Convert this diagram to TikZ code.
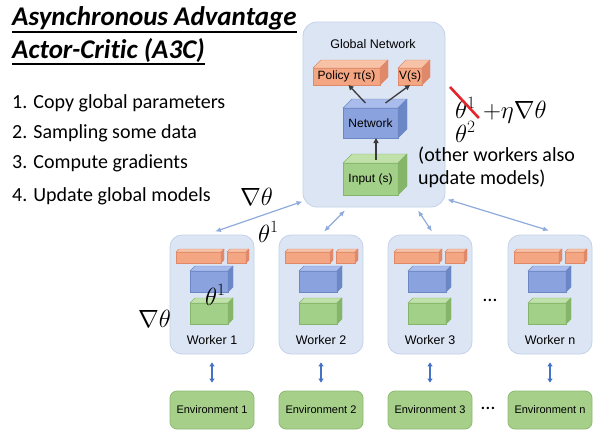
\documentclass[tikz,border=0pt]{standalone}
\usepackage{fontspec}
\setmainfont[Ligatures=NoCommon]{Carlito}
\newfontfamily\arialf{Liberation Sans}
\usetikzlibrary{arrows.meta}
\definecolor{panel}{HTML}{DCE5F3}
\definecolor{panelb}{HTML}{C3D2EA}
\definecolor{orf}{HTML}{F4A582}
\definecolor{ortop}{HTML}{F8C2A6}
\definecolor{orside}{HTML}{E0896A}
\definecolor{blf}{HTML}{8AA2DE}
\definecolor{bltop}{HTML}{A9BCEB}
\definecolor{blside}{HTML}{6C87C6}
\definecolor{grf}{HTML}{A3D088}
\definecolor{grtop}{HTML}{C0E1A9}
\definecolor{grside}{HTML}{84B569}
\definecolor{envf}{HTML}{A6CF8A}
\definecolor{envb}{HTML}{8EBB72}
\definecolor{linkc}{HTML}{8FAADC}
\definecolor{envarr}{HTML}{4472C4}
\definecolor{arrowgray}{HTML}{3A3A3A}
\definecolor{strike}{HTML}{E3262B}
\newcommand\mycube[8]{%
 \node[draw=#7side, line width=0.4pt, outer sep=0pt, fill=#7f, minimum width=#4pt, minimum height=#5pt, inner sep=0pt, font=\arialf\fontsize{12}{14}\selectfont] (#1) at (#2,#3) {#8};
 \filldraw[draw=#7side, line width=0.4pt, fill=#7top] (#1.north west) -- ++(#6,-#6) -- ++(#4,0) -- (#1.north east) -- cycle;
 \filldraw[draw=#7side, line width=0.4pt, fill=#7side] (#1.north east) -- ++(#6,-#6) -- ++(0,#5) -- (#1.south east) -- cycle;
}
\begin{document}
\begin{tikzpicture}[x=1pt,y=-1pt,
 panelbox/.style={draw=panelb, fill=panel, line width=0.8pt, rounded corners=#1, inner sep=0pt},
 envbox/.style={draw=envb, fill=envf, line width=0.8pt, rounded corners=7pt, minimum width=84pt, minimum height=38pt, inner sep=0pt, font=\arialf\fontsize{11}{13}\selectfont},
 lbl/.style={font=\arialf\fontsize{12.5}{14}\selectfont, inner sep=0pt},
 link/.style={{Latex[length=6pt,width=5pt]}-{Latex[length=6pt,width=5pt]}, draw=linkc, line width=1.2pt},
 envlink/.style={{Triangle[length=4pt,width=5pt]}-{Triangle[length=4pt,width=5pt]}, draw=envarr, line width=1.4pt, shorten >=8pt, shorten <=8pt},
 netarrow/.style={-{Triangle[length=5pt,width=5pt]}, draw=arrowgray, line width=1.3pt},
 mathtxt/.style={font=\fontsize{26}{30}\selectfont, inner sep=0pt, anchor=base west},
 bodytxt/.style={font=\fontsize{20}{24}\selectfont, inner sep=0pt, anchor=base west},
 titletxt/.style={font=\fontsize{27}{32}\selectfont\bfseries\itshape, inner sep=0pt, anchor=base west},
]
\fill[white] (0,0) rectangle (600,439);
\useasboundingbox (0,0) rectangle (600,439);

% title and list
\node[titletxt] (t1) at (12,25) {Asynchronous Advantage};
\node[titletxt] (t2) at (12,58) {Actor-Critic (A3C)};
\draw[line width=1.4pt] ([shift={(0,7)}]t1.base west) -- ([shift={(0,7)}]t1.base east);
\draw[line width=1.4pt] ([shift={(0,6)}]t2.base west) -- ([shift={(0,6)}]t2.base east);
\node[bodytxt] (s1) at (12,108) {1. Copy global parameters};
\node[bodytxt] (s2) at (12,138) {2. Sampling some data};
\node[bodytxt] (s3) at (12,168) {3. Compute gradients};
\node[bodytxt] (s4) at (12,201) {4. Update global models};

% global network
\node[panelbox=14pt, minimum width=142pt, minimum height=185pt] (global) at (374,114.5) {};
\node[lbl, font=\arialf\fontsize{12.5}{14}\selectfont] (gtitle) at (373,44) {Global Network};
\mycube{policy}{346.5}{76.5}{67}{17}{8}{or}{Policy π(s)}
\mycube{vs}{410}{76.5}{24}{17}{8}{or}{V(s)}
\mycube{net}{370.5}{123}{55}{30}{9}{bl}{Network}
\mycube{inp}{370.5}{179}{55}{32}{9}{gr}{Input (s)}
\draw[netarrow] ([shift={(-5,-5)}]net.north) -- ([xshift=2pt]policy.south);
\draw[netarrow] ([shift={(15,-5)}]net.north) -- ([xshift=0pt]vs.south);
\draw[netarrow] ([shift={(5.5,-3)}]inp.north) -- ([xshift=5.5pt]net.south);

% workers and environments
\foreach \n/\x in {1/170, 2/279, 3/388, n/508}{
 \node[panelbox=12pt, minimum width=84pt, minimum height=119pt] (w\n) at (\x+42,294.5) {};
 \mycube{wo\n}{\x+28.5}{257.5}{45}{11}{3}{or}{}
 \mycube{ws\n}{\x+66.5}{257.5}{19}{11}{3}{or}{}
 \mycube{wb\n}{\x+39}{281.5}{38}{21}{5}{bl}{}
 \mycube{wg\n}{\x+39}{313.5}{38}{21}{5}{gr}{}
 \node[lbl] (wl\n) at (\x+42,340) {Worker \n};
 \node[envbox] (e\n) at (\x+42,410) {Environment \n};
 \draw[envlink] (w\n) -- (e\n);
}
\node[bodytxt, anchor=center] (d1) at (490,300) {…};
\node[bodytxt, anchor=center] (d2) at (488,408) {…};

% links global <-> workers
\draw[link] ([shift={(0,-6)}]global.south west) -- ([shift={(3,-3)}]w1.north);
\draw[link] ([shift={(-29,3)}]global.south) -- ([shift={(3,-3)}]w2.north);
\draw[link] ([shift={(44,3)}]global.south) -- ([shift={(2,-3)}]w3.north);
\draw[link] ([shift={(2,-8)}]global.south east) -- ([shift={(-1,-4)}]wn.north);

% math annotations
\node[mathtxt] (th1) at (455,118) {$\theta^1$};
\node[mathtxt] (upd) at ([shift={(7,0)}]th1.base east) {$+\eta\nabla\theta$};
\draw[strike, line width=2.6pt] ([shift={(-5,-31)}]th1.base west) -- ([shift={(3,0)}]th1.base east);
\node[mathtxt] (th2) at (455,142) {$\theta^2$};
\node[bodytxt] (oth1) at (418,161) {(other workers also};
\node[bodytxt] (oth2) at (418,184) {update models)};
\node[mathtxt] (g1) at (240,205) {$\nabla\theta$};
\node[mathtxt] (p1) at (258,242) {$\theta^1$};
\node[mathtxt] (g2) at (138,327) {$\nabla\theta$};
\node[mathtxt] (p2) at (205,305) {$\theta^1$};
\end{tikzpicture}
\end{document}
